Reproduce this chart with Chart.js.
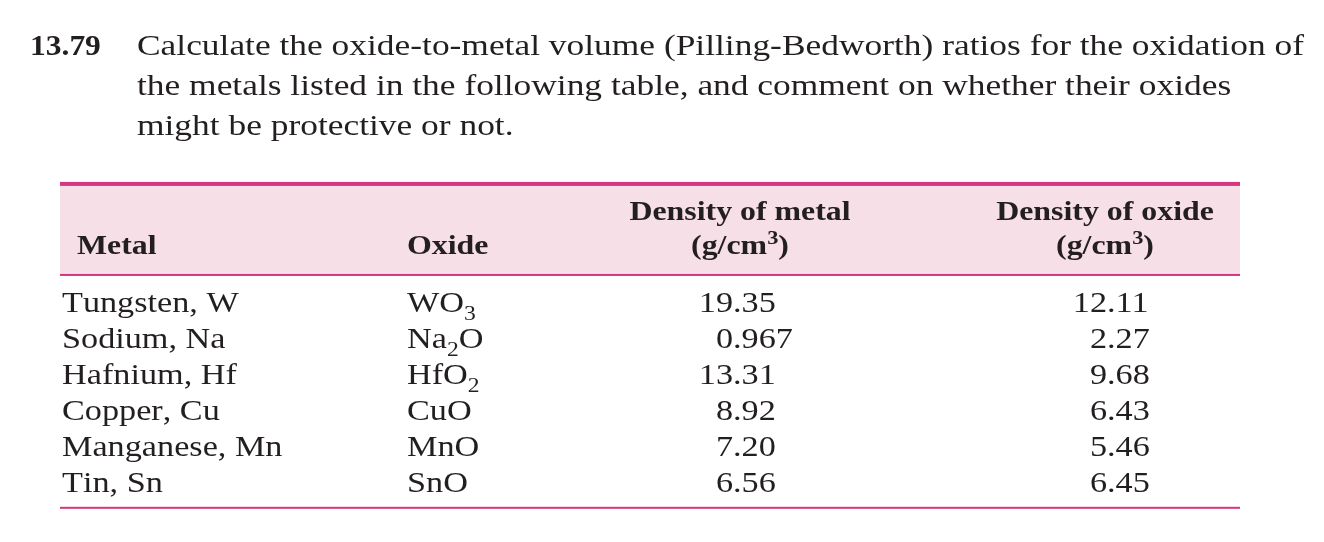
<!DOCTYPE html>
<html>
<head>
<meta charset="utf-8">
<script src="https://cdn.jsdelivr.net/npm/chart.js@4"></script>
<style>
  body { margin: 0; background: #fff; }
  #wrap { position: relative; width: 1324px; height: 542px; overflow: hidden; }
  #tbl { position: absolute; left: 0; top: 0; }
  .q { position: absolute; font-family: "Liberation Serif", serif; font-size: 30px; color: #231f20; line-height: 40px; transform-origin: 0 0; transform: scaleX(1.18); white-space: nowrap; }
</style>
</head>
<body>
<div id="wrap">
  <canvas id="tbl" width="1324" height="542"></canvas>
  <div class="q" style="left:30px;top:25px;font-weight:bold;transform:scaleX(1.05);">13.79</div>
  <div class="q" style="left:137px;top:25px;">Calculate the oxide-to-metal volume (Pilling-Bedworth) ratios for the oxidation of<br>the metals listed in the following table, and comment on whether their oxides<br>might be protective or not.</div>
</div>
<script>
// table data
const metals = ["Tungsten, W", "Sodium, Na", "Hafnium, Hf", "Copper, Cu", "Manganese, Mn", "Tin, Sn"];
const oxides = ["WO_3", "Na_2O", "HfO_2", "CuO", "MnO", "SnO"];
const metalDensity = ["19.35", "0.967", "13.31", "8.92", "7.20", "6.56"];
const oxideDensity = ["12.11", "2.27", "9.68", "6.43", "5.46", "6.45"];
const headers = [["Metal"], ["Oxide"], ["Density of metal", "(g/cm^3)"], ["Density of oxide", "(g/cm^3)"]];

const ink = "#231f20";
const pink = "#d4367f";
const FONT = '"Liberation Serif", serif';
const SX = 1.18;

// column anchors on the x scale
const colX = [62, 407, 733, 1107];
const headX = [77, 407, 740, 1105];

// draws text with _n subscripts and ^n superscripts
function richWidth(ctx, s, size) {
  let w = 0;
  for (let i = 0; i < s.length; i++) {
    if (s[i] === "_" || s[i] === "^") {
      const base = ctx.font;
      ctx.font = base.replace(/\d+px/, Math.round(size * 0.7) + "px");
      w += ctx.measureText(s[i + 1]).width; i++;
      ctx.font = base;
    } else w += ctx.measureText(s[i]).width;
  }
  return w;
}
function richText(ctx, s, x, y, size) {
  for (let i = 0; i < s.length; i++) {
    if (s[i] === "_" || s[i] === "^") {
      const base = ctx.font;
      ctx.font = base.replace(/\d+px/, Math.round(size * 0.7) + "px");
      const dy = s[i] === "_" ? size * 0.28 : -size * 0.38;
      ctx.fillText(s[i + 1], x, y + dy);
      x += ctx.measureText(s[i + 1]).width;
      ctx.font = base; i++;
    } else {
      ctx.fillText(s[i], x, y);
      x += ctx.measureText(s[i]).width;
    }
  }
}

const cells = [];
metals.forEach((m, r) => {
  cells.push({ x: colX[0], y: r, t: m, k: "left" });
  cells.push({ x: colX[1], y: r, t: oxides[r], k: "left" });
  cells.push({ x: colX[2], y: r, t: metalDensity[r], k: "dec" });
  cells.push({ x: colX[3], y: r, t: oxideDensity[r], k: "dec" });
});

const tablePlugin = {
  id: "tablePlugin",
  beforeDatasetsDraw(chart) {
    const ctx = chart.ctx, xs = chart.scales.x, ys = chart.scales.y;
    const l = xs.getPixelForValue(60), r = xs.getPixelForValue(1240);
    ctx.save();
    ctx.fillStyle = "#f6dfe6";
    ctx.fillRect(l, ys.getPixelForValue(-3.28), r - l, ys.getPixelForValue(-0.75) - ys.getPixelForValue(-3.28));
    ctx.fillStyle = pink;
    ctx.fillRect(l, ys.getPixelForValue(-3.28) - 2, r - l, 4);
    ctx.fillRect(l, ys.getPixelForValue(-0.75) - 1, r - l, 2);
    ctx.fillRect(l, ys.getPixelForValue(5.72) - 1, r - l, 2);
    // headers
    ctx.fillStyle = ink;
    ctx.textBaseline = "alphabetic";
    headers.forEach((h, c) => {
      const x = xs.getPixelForValue(headX[c]);
      const lines = h.length === 1 ? [[h[0], -1.33]] : [[h[0], -2.28], [h[1], -1.33]];
      lines.forEach(([s, yv]) => {
        ctx.font = "bold 27px " + FONT;
        const w = richWidth(ctx, s, 27);
        ctx.save();
        ctx.translate(x, ys.getPixelForValue(yv));
        ctx.scale(SX, 1);
        richText(ctx, s, c < 2 ? 0 : -w / 2, 0, 27);
        ctx.restore();
      });
    });
    ctx.restore();
  },
  afterDatasetsDraw(chart) {
    const ctx = chart.ctx;
    const meta = chart.getDatasetMeta(0);
    ctx.save();
    ctx.fillStyle = ink;
    ctx.font = "29px " + FONT;
    ctx.textBaseline = "alphabetic";
    meta.data.forEach((el, i) => {
      const c = cells[i];
      ctx.save();
      ctx.translate(el.x, el.y + 10);
      ctx.scale(SX, 1);
      if (c.k === "left") {
        richText(ctx, c.t, 0, 0, 29);
      } else {
        const [a, b] = c.t.split(".");
        ctx.textAlign = "right";
        ctx.fillText(a, 0, 0);
        ctx.textAlign = "left";
        ctx.fillText("." + b, 0, 0);
      }
      ctx.restore();
    });
    ctx.restore();
  }
};

new Chart(document.getElementById("tbl"), {
  type: "scatter",
  data: { datasets: [{ data: cells.map(c => ({ x: c.x, y: c.y })), pointRadius: 0, pointHoverRadius: 0 }] },
  options: {
    responsive: false,
    animation: false,
    layout: { padding: 0 },
    plugins: { legend: { display: false }, tooltip: { enabled: false } },
    events: [],
    scales: {
      x: { type: "linear", min: 0, max: 1324, display: false },
      y: { type: "linear", min: -8.39, max: 6.67, reverse: true, display: false }
    }
  },
  plugins: [tablePlugin]
});
</script>
</body>
</html>
